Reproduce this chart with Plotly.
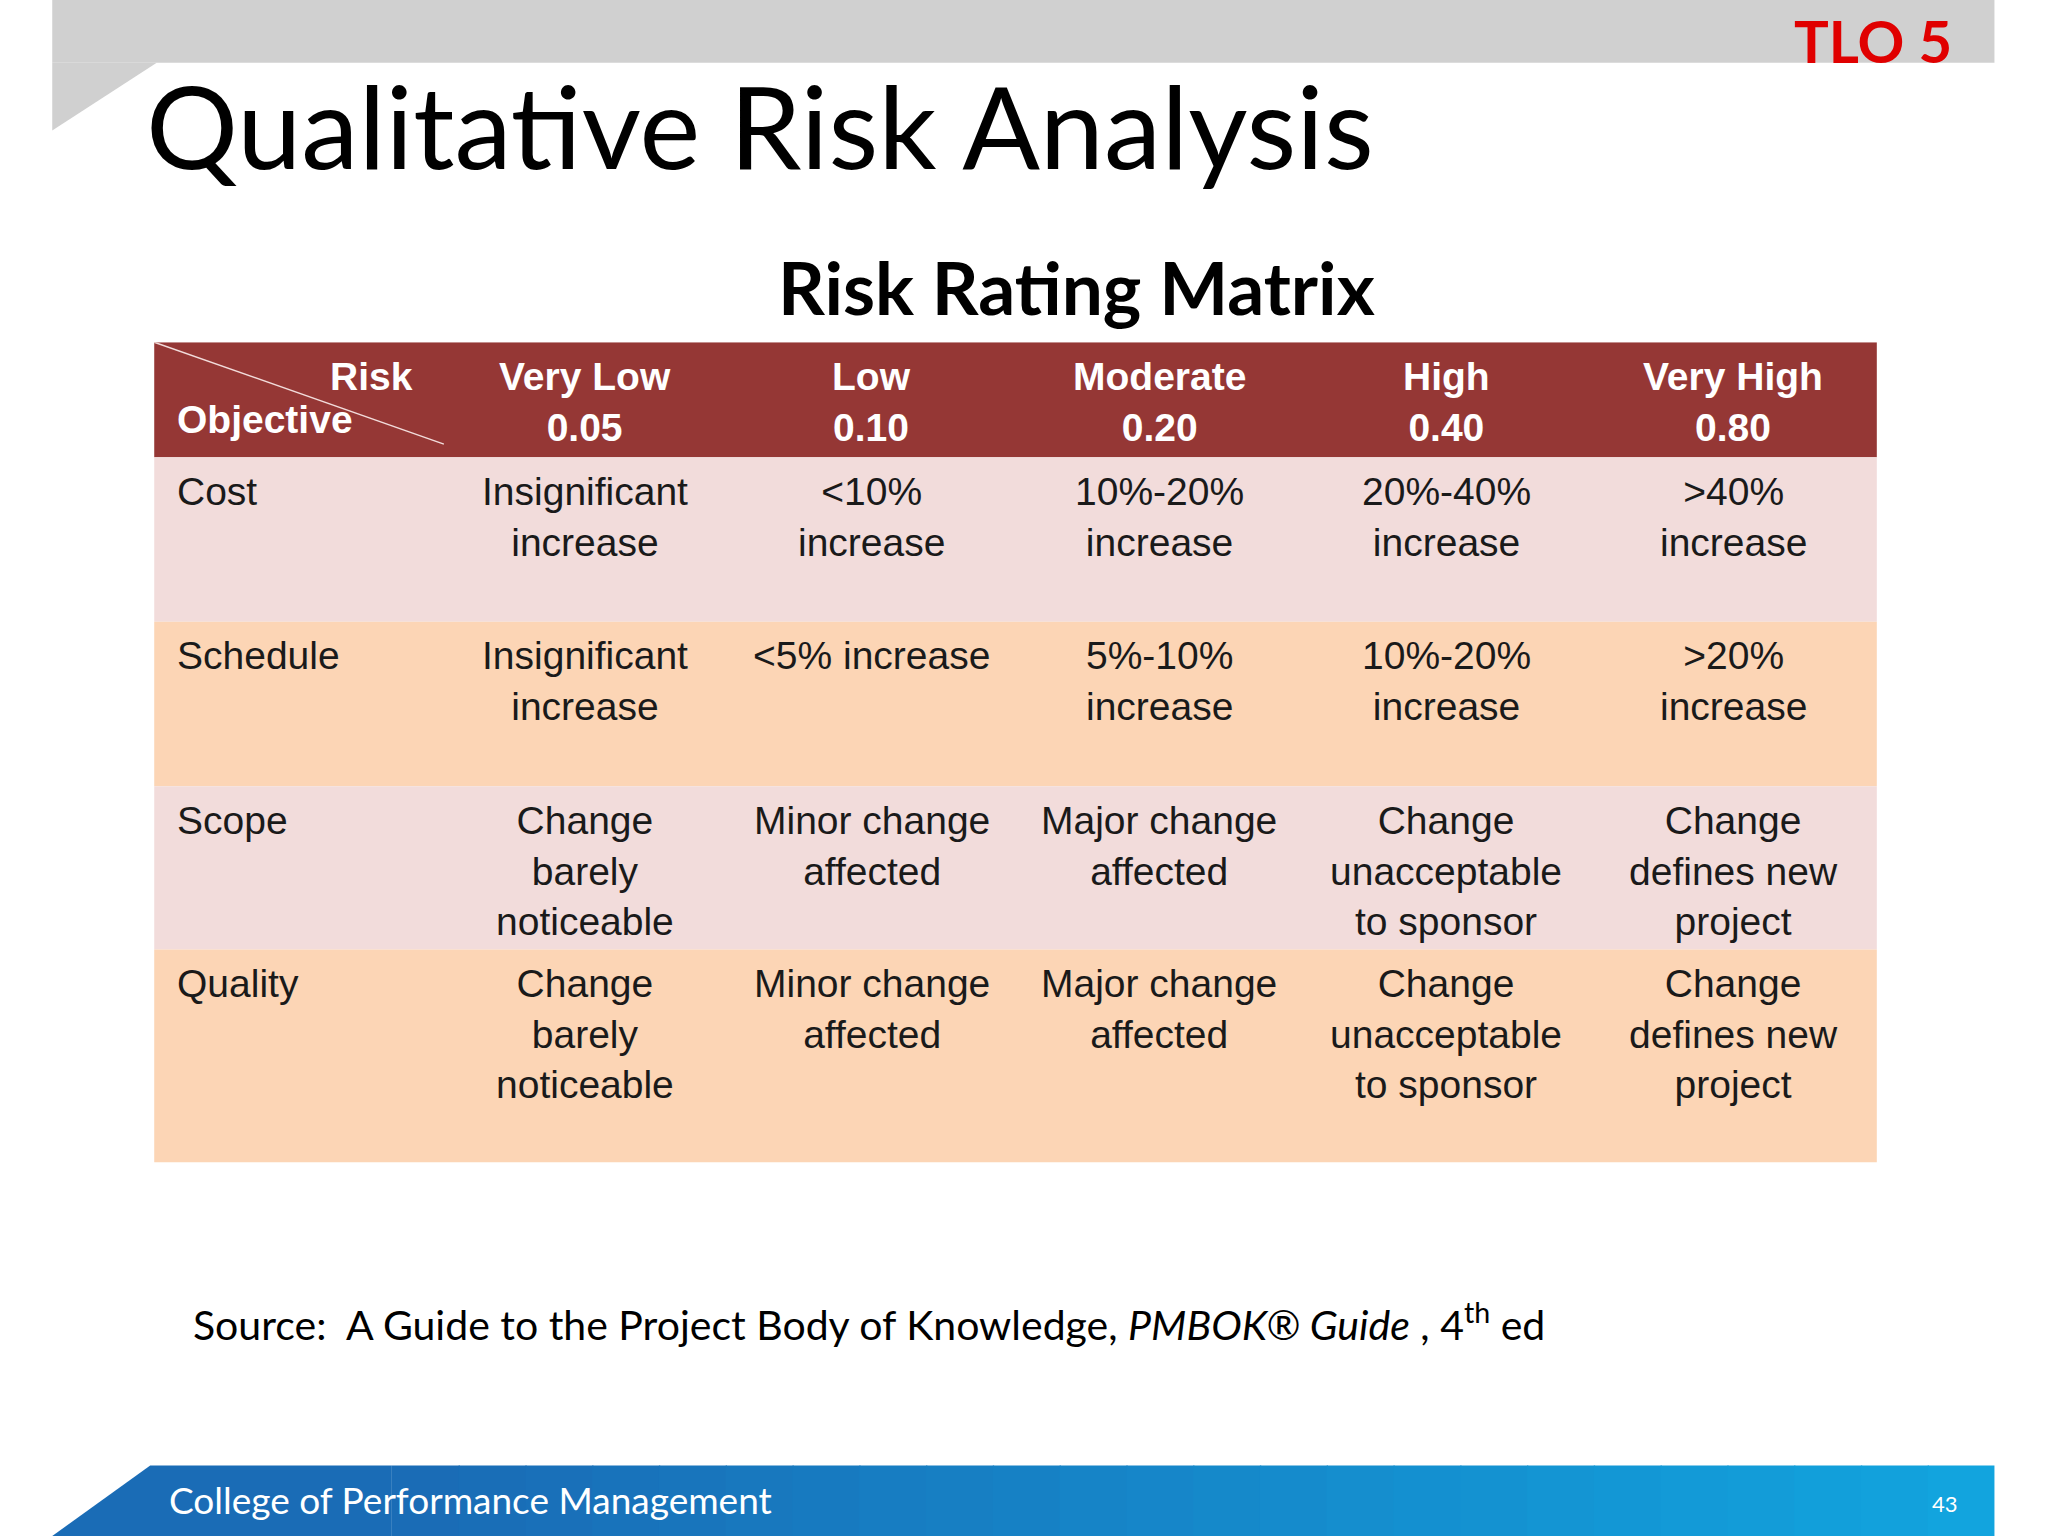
import plotly.graph_objects as go

W, H = 2048, 1536

levels = ["Very Low", "Low", "Moderate", "High", "Very High"]
level_values = ["0.05", "0.10", "0.20", "0.40", "0.80"]
objectives = ["Cost", "Schedule", "Scope", "Quality"]
cells = [
    ["Insignificant<br>increase", "<10%<br>increase", "10%-20%<br>increase", "20%-40%<br>increase", ">40%<br>increase"],
    ["Insignificant<br>increase", "<5% increase", "5%-10%<br>increase", "10%-20%<br>increase", ">20%<br>increase"],
    ["Change<br>barely<br>noticeable", "Minor change<br>affected", "Major change<br>affected", "Change<br>unacceptable<br>to sponsor", "Change<br>defines new<br>project"],
    ["Change<br>barely<br>noticeable", "Minor change<br>affected", "Major change<br>affected", "Change<br>unacceptable<br>to sponsor", "Change<br>defines new<br>project"],
]
row_edges = [0, 88, 214, 340, 465, 628]
row_colors = ["#F2DCDB", "#FCD5B5", "#F2DCDB", "#FCD5B5"]
HEAD = "#953735"

def px(x): return x / 1568.0
def py(y): return 1 - y / 1176.0

fig = go.Figure()
fig.add_trace(go.Scatter(x=[0, 6], y=[0, 628], mode="markers", marker=dict(opacity=0), hoverinfo="skip", showlegend=False))

shapes, ann = [], []
shapes.append(dict(type="rect", xref="paper", yref="paper", x0=px(40), x1=px(1527), y0=py(48), y1=py(0), fillcolor="#D0D0D0", line_width=0, layer="below"))
shapes.append(dict(type="path", xref="paper", yref="paper", path=f"M {px(40)},{py(48)} L {px(40)},{py(100)} L {px(120)},{py(48)} Z", fillcolor="#D0D0D0", line_width=0, layer="below"))
# bottom blue band (gradient approximated by stripes)
shapes.append(dict(type="path", xref="paper", yref="paper", path=f"M {px(40)},{py(1176)} L {px(115)},{py(1122)} L {px(300)},{py(1122)} L {px(300)},{py(1176)} Z", fillcolor="#1A6CB6", line_width=0, layer="below"))
n = 24
for k in range(n):
    x0 = 300 + (1527 - 300) * k / n
    x1 = 300 + (1527 - 300) * (k + 1) / n + 1
    t = k / (n - 1)
    r, g, b = int(26 - 8 * t), int(108 + 56 * t), int(182 + 40 * t)
    shapes.append(dict(type="rect", xref="paper", yref="paper", x0=px(x0), x1=px(min(x1, 1527)), y0=py(1176), y1=py(1122), fillcolor=f"rgb({r},{g},{b})", line_width=0, layer="below"))

shapes.append(dict(type="rect", xref="x", yref="y", x0=0, x1=6, y0=0, y1=88, fillcolor=HEAD, line_width=0, layer="below"))
for i, c in enumerate(row_colors):
    shapes.append(dict(type="rect", xref="x", yref="y", x0=0, x1=6, y0=row_edges[i+1], y1=row_edges[i+2], fillcolor=c, line_width=0, layer="below"))
shapes.append(dict(type="line", xref="x", yref="y", x0=0, y0=0, x1=222/220, y1=78, line=dict(color="#F2DCDB", width=1.5)))

TF = "Liberation Sans, Arial"
FS = 39
ann.append(dict(xref="x", yref="y", x=200/220, y=8, text="<b>Risk</b>", xanchor="right", yanchor="top", showarrow=False, font=dict(family=TF, size=FS, color="white")))
ann.append(dict(xref="x", yref="y", x=16/220, y=41, text="<b>Objective</b>", xanchor="left", yanchor="top", showarrow=False, font=dict(family=TF, size=FS, color="white")))
for j, (lv, v) in enumerate(zip(levels, level_values)):
    ann.append(dict(xref="x", yref="y", x=j + 1.5, y=8, text=f"<b>{lv}<br>{v}</b>", xanchor="center", yanchor="top", align="center", showarrow=False, font=dict(family=TF, size=FS, color="white")))
for i, ob in enumerate(objectives):
    top = row_edges[i+1] + 8
    ann.append(dict(xref="x", yref="y", x=16/220, y=top, text=ob, xanchor="left", yanchor="top", showarrow=False, font=dict(family=TF, size=FS, color="#1a1a1a")))
    for j, t in enumerate(cells[i]):
        ann.append(dict(xref="x", yref="y", x=j + 1.5, y=top, text=t, xanchor="center", yanchor="top", align="center", showarrow=False, font=dict(family=TF, size=FS, color="#1a1a1a")))

ann.append(dict(xref="paper", yref="paper", x=px(110), y=py(95), text="Qualitative Risk Analysis", xanchor="left", yanchor="middle", showarrow=False, font=dict(family="Lato", size=115, color="black")))
ann.append(dict(xref="paper", yref="paper", x=px(1434), y=py(31), text="<b>TLO 5</b>", xanchor="center", yanchor="middle", showarrow=False, font=dict(family="Lato", size=58, color="#E00000")))
ann.append(dict(xref="paper", yref="paper", x=px(824), y=py(220), text="<b>Risk Rating Matrix</b>", xanchor="center", yanchor="middle", showarrow=False, font=dict(family="Lato", size=73, color="black")))
ann.append(dict(xref="paper", yref="paper", x=px(146), y=py(1012), text="Source:  A Guide to the Project Body of Knowledge, <i>PMBOK® Guide</i> , 4<sup>th</sup> ed", xanchor="left", yanchor="middle", showarrow=False, font=dict(family="Lato", size=41, color="black")))
ann.append(dict(xref="paper", yref="paper", x=px(128), y=py(1148), text="College of Performance Management", xanchor="left", yanchor="middle", showarrow=False, font=dict(family="Lato", size=37, color="white")))
ann.append(dict(xref="paper", yref="paper", x=px(1489), y=py(1151), text="43", xanchor="center", yanchor="middle", showarrow=False, font=dict(family="Lato", size=22, color="white")))

fig.update_layout(
    width=W, height=H, margin=dict(l=0, r=0, t=0, b=0),
    paper_bgcolor="white", plot_bgcolor="rgba(0,0,0,0)",
    xaxis=dict(domain=[px(118), px(1437)], range=[0, 6], visible=False, fixedrange=True),
    yaxis=dict(domain=[py(890), py(262)], range=[628, 0], visible=False, fixedrange=True),
    shapes=shapes, annotations=ann, showlegend=False,
)
fig.write_html("out.html", config={"displayModeBar": False})
with open("out.html", encoding="utf-8") as f:
    html = f.read()
html = html.replace("<body>", '<body style="margin:0;padding:0;overflow:hidden">', 1)
with open("out.html", "w", encoding="utf-8") as f:
    f.write(html)
